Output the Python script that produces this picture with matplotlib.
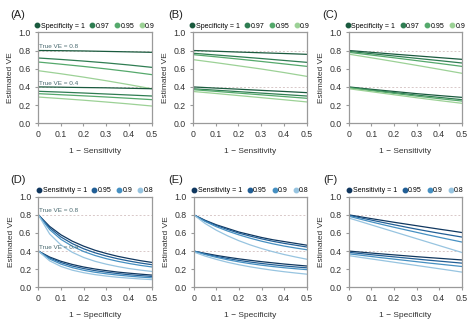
import matplotlib
matplotlib.use("Agg")
import matplotlib.pyplot as plt
from matplotlib.lines import Line2D

plt.rcParams['font.family'] = ['Liberation Sans', 'DejaVu Sans']

# x grids
x_top = [0, 0.1, 0.2, 0.3, 0.4, 0.5]
x_bot = [0, 0.05, 0.1, 0.15, 0.2, 0.25, 0.3, 0.35, 0.4, 0.45, 0.5]

spec_labels = ['Specificity = 1', '0.97', '0.95', '0.9']
sens_labels = ['Sensitivity = 1', '0.95', '0.9', '0.8']

# Panel A: estimated VE vs 1 - sensitivity, by specificity
a_ve08 = [
    [0.800, 0.798, 0.795, 0.790, 0.785, 0.780],
    [0.718, 0.702, 0.684, 0.664, 0.641, 0.615],
    [0.674, 0.650, 0.625, 0.598, 0.568, 0.535],
    [0.579, 0.545, 0.508, 0.468, 0.425, 0.380],
]
a_ve04 = [
    [0.400, 0.397, 0.393, 0.390, 0.385, 0.380],
    [0.352, 0.343, 0.333, 0.322, 0.311, 0.300],
    [0.326, 0.314, 0.302, 0.289, 0.275, 0.260],
    [0.289, 0.272, 0.254, 0.234, 0.213, 0.190],
]
# Panel B
b_ve08 = [
    [0.800, 0.792, 0.783, 0.775, 0.767, 0.758],
    [0.770, 0.751, 0.732, 0.712, 0.691, 0.670],
    [0.755, 0.731, 0.706, 0.680, 0.653, 0.626],
    [0.700, 0.667, 0.632, 0.597, 0.558, 0.516],
]
b_ve04 = [
    [0.400, 0.387, 0.375, 0.362, 0.350, 0.337],
    [0.380, 0.364, 0.348, 0.332, 0.316, 0.300],
    [0.370, 0.351, 0.332, 0.313, 0.294, 0.275],
    [0.350, 0.328, 0.305, 0.282, 0.259, 0.235],
]
# Panel C
c_ve08 = [
    [0.800, 0.780, 0.760, 0.741, 0.722, 0.703],
    [0.790, 0.765, 0.740, 0.714, 0.689, 0.663],
    [0.780, 0.750, 0.720, 0.689, 0.658, 0.626],
    [0.760, 0.720, 0.679, 0.637, 0.594, 0.550],
]
c_ve04 = [
    [0.400, 0.374, 0.350, 0.326, 0.305, 0.285],
    [0.395, 0.366, 0.338, 0.310, 0.285, 0.260],
    [0.390, 0.359, 0.329, 0.299, 0.271, 0.245],
    [0.380, 0.347, 0.314, 0.281, 0.250, 0.220],
]
# Panel D: estimated VE vs 1 - specificity, by sensitivity
d_ve08 = [
    [0.800, 0.672, 0.579, 0.509, 0.454, 0.409, 0.373, 0.342, 0.317, 0.294, 0.275],
    [0.800, 0.656, 0.555, 0.482, 0.425, 0.381, 0.345, 0.315, 0.290, 0.268, 0.250],
    [0.800, 0.637, 0.529, 0.453, 0.395, 0.351, 0.316, 0.287, 0.263, 0.242, 0.225],
    [0.800, 0.589, 0.467, 0.386, 0.329, 0.287, 0.255, 0.229, 0.207, 0.190, 0.175],
]
d_ve04 = [
    [0.400, 0.334, 0.287, 0.252, 0.224, 0.202, 0.184, 0.168, 0.156, 0.145, 0.135],
    [0.400, 0.324, 0.273, 0.235, 0.207, 0.184, 0.167, 0.152, 0.139, 0.129, 0.120],
    [0.400, 0.312, 0.256, 0.217, 0.188, 0.166, 0.149, 0.135, 0.123, 0.113, 0.105],
    [0.400, 0.292, 0.230, 0.189, 0.161, 0.140, 0.124, 0.111, 0.101, 0.092, 0.085],
]
# Panel E
e_ve08 = [
    [0.800, 0.740, 0.690, 0.650, 0.610, 0.580, 0.550, 0.525, 0.505, 0.485, 0.465],
    [0.800, 0.735, 0.682, 0.638, 0.598, 0.565, 0.535, 0.508, 0.485, 0.465, 0.445],
    [0.800, 0.727, 0.669, 0.621, 0.579, 0.542, 0.509, 0.480, 0.455, 0.434, 0.415],
    [0.800, 0.705, 0.630, 0.568, 0.514, 0.468, 0.428, 0.393, 0.362, 0.335, 0.310],
]
e_ve04 = [
    [0.400, 0.375, 0.352, 0.332, 0.314, 0.298, 0.283, 0.270, 0.257, 0.246, 0.235],
    [0.400, 0.368, 0.341, 0.318, 0.297, 0.279, 0.263, 0.249, 0.236, 0.225, 0.215],
    [0.400, 0.362, 0.331, 0.304, 0.281, 0.261, 0.244, 0.229, 0.216, 0.205, 0.195],
    [0.390, 0.345, 0.308, 0.276, 0.249, 0.226, 0.206, 0.188, 0.172, 0.158, 0.145],
]
# Panel F
f_ve08 = [
    [0.800, 0.779, 0.758, 0.738, 0.718, 0.699, 0.680, 0.661, 0.642, 0.624, 0.605],
    [0.795, 0.768, 0.742, 0.716, 0.691, 0.666, 0.642, 0.619, 0.597, 0.576, 0.555],
    [0.785, 0.753, 0.722, 0.692, 0.663, 0.635, 0.607, 0.579, 0.552, 0.526, 0.500],
    [0.765, 0.727, 0.689, 0.651, 0.613, 0.575, 0.537, 0.499, 0.461, 0.423, 0.385],
]
f_ve04 = [
    [0.400, 0.389, 0.378, 0.368, 0.358, 0.348, 0.338, 0.329, 0.320, 0.311, 0.302],
    [0.386, 0.373, 0.360, 0.348, 0.336, 0.324, 0.312, 0.300, 0.289, 0.278, 0.267],
    [0.370, 0.355, 0.340, 0.325, 0.311, 0.297, 0.283, 0.269, 0.256, 0.243, 0.230],
    [0.350, 0.331, 0.313, 0.295, 0.277, 0.259, 0.241, 0.223, 0.205, 0.187, 0.168],
]

greens = ['#1a5a3e', '#2f7d52', '#55a96c', '#9cd196']
blues = ['#10375f', '#225f96', '#4690c2', '#97c4e0']

W, H = 474, 331
fig = plt.figure(figsize=(W / 100, H / 100), dpi=100)

def frac_axes(x0, x1, ytop, ybot):
    return fig.add_axes([x0 / W, 1 - ybot / H, (x1 - x0) / W, (ybot - ytop) / H])

panels = [
    ('(A)', (37.7, 151.7, 32.3, 123.3), x_top, a_ve08, a_ve04, greens, spec_labels, '1 \u2212 Sensitivity', True),
    ('(B)', (192.7, 306.7, 32.3, 123.3), x_top, b_ve08, b_ve04, greens, spec_labels, '1 \u2212 Sensitivity', False),
    ('(C)', (348.7, 461.7, 32.3, 123.3), x_top, c_ve08, c_ve04, greens, spec_labels, '1 \u2212 Sensitivity', False),
    ('(D)', (38.3, 151.7, 196.7, 287.3), x_bot, d_ve08, d_ve04, blues, sens_labels, '1 \u2212 Specificity', True),
    ('(E)', (193.7, 306.7, 196.7, 287.3), x_bot, e_ve08, e_ve04, blues, sens_labels, '1 \u2212 Specificity', False),
    ('(F)', (348.7, 461.7, 196.7, 287.3), x_bot, f_ve08, f_ve04, blues, sens_labels, '1 \u2212 Specificity', False),
]

letter_x = {'(A)': 10.5, '(B)': 168, '(C)': 322, '(D)': 10.5, '(E)': 168, '(F)': 323}
letter_y = {'(A)': 15, '(B)': 15, '(C)': 15, '(D)': 180, '(E)': 180, '(F)': 180}

for letter, box, xs, ve08, ve04, cols, labels, xlab, annotate in panels:
    ax = frac_axes(*box)
    for yref in (0.8, 0.4):
        ax.axhline(yref, color='#d8c8c8', lw=0.7, ls=(0, (2, 2)), zorder=1)
    for group in (ve08, ve04):
        for ys, c in zip(group, cols):
            ax.plot(xs, ys, color=c, lw=0.9, zorder=2)
    ax.set_xlim(0, 0.5)
    ax.set_ylim(0, 1.0)
    ax.set_xticks([0, 0.1, 0.2, 0.3, 0.4, 0.5])
    ax.set_xticklabels(['0', '0.1', '0.2', '0.3', '0.4', '0.5'])
    ax.set_yticks([0, 0.2, 0.4, 0.6, 0.8, 1.0])
    ax.set_yticklabels(['0.0', '0.2', '0.4', '0.6', '0.8', '1.0'])
    for s in ax.spines.values():
        s.set_color('#9a9a9a')
        s.set_linewidth(0.9)
    ax.tick_params(axis='both', labelsize=6.3, colors='#9a9a9a', length=2.5,
                   width=0.8, pad=2.5, labelcolor='#333333')
    ax.set_xlabel(xlab, fontsize=6.0, color='#333333', labelpad=6)
    ax.set_ylabel('Estimated VE', fontsize=6.0, color='#333333', labelpad=3)
    if annotate:
        ax.text(0.005, 0.815, 'True VE = 0.8', fontsize=4.6, color='#4a6a70',
                ha='left', va='bottom', zorder=3)
        ax.text(0.005, 0.415, 'True VE = 0.4', fontsize=4.6, color='#4a6a70',
                ha='left', va='bottom', zorder=3)
    handles = [Line2D([], [], ls='none', marker='o', ms=3.2, color=c) for c in cols]
    ax.legend(handles, labels, loc='lower center', bbox_to_anchor=(0.5, 1.0),
              ncol=4, frameon=False, fontsize=5.0, handletextpad=0.1,
              columnspacing=0.7, borderaxespad=0.25, handlelength=0.8,
              borderpad=0.1)
    fig.text(letter_x[letter] / W, 1 - letter_y[letter] / H, letter,
             fontsize=8, color='#222222', ha='left', va='center')

fig.savefig('out.png', dpi=100)
